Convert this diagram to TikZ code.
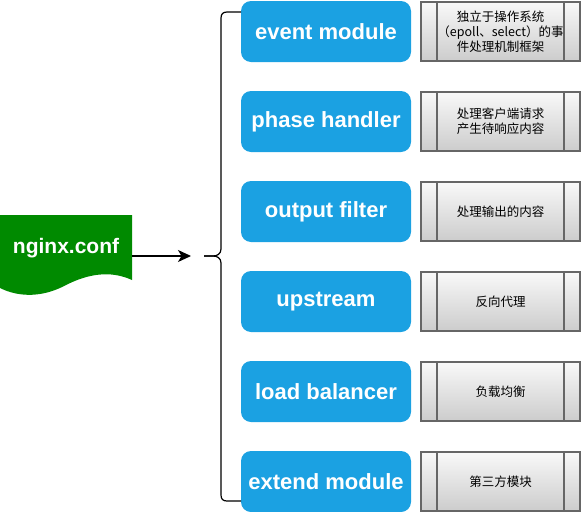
\documentclass[tikz,border=0pt]{standalone}
\usepackage{fontspec}
\setmainfont{Liberation Sans}
\newfontfamily\cjk{Noto Sans CJK SC}
\usetikzlibrary{arrows.meta, positioning, calc}

\definecolor{modblue}{HTML}{1BA1E2}
\definecolor{confgreen}{HTML}{008A00}
\definecolor{procgray}{HTML}{666666}

\tikzset{
  module/.style={fill=modblue, rounded corners=10pt, minimum width=170pt, minimum height=61pt,
    inner sep=0pt, outer sep=0pt, text=white, font=\bfseries\fontsize{22}{26}\selectfont},
  proc/.style={draw=procgray, line width=1.2pt, top color=gray!5, bottom color=gray!40,
    minimum width=159pt, minimum height=59pt, inner sep=0pt, outer sep=0pt, align=center,
    font=\cjk\fontsize{12.5}{15}\selectfont,
    path picture={
      \draw[procgray, line width=1.2pt]
        ([xshift=16pt]path picture bounding box.north west) -- ([xshift=16pt]path picture bounding box.south west)
        ([xshift=-16pt]path picture bounding box.north east) -- ([xshift=-16pt]path picture bounding box.south east);
    }},
  brace/.style={line width=1.2pt},
  flow/.style={line width=1.2pt, -{Stealth[length=13pt, width=12pt, inset=3.5pt]}}
}

\begin{document}
\begin{tikzpicture}[x=1pt, y=-1pt]
\useasboundingbox (0,0) rectangle (582,512);

% config file
\fill[confgreen] (0,215) -- (132,215) -- (132,280)
  .. controls (110,270) and (88,274) .. (66,285)
  .. controls (44,297) and (20,298) .. (0,288) -- cycle;
\node[minimum width=132pt, minimum height=64pt, inner sep=0pt, text=white,
  font=\bfseries\fontsize{21}{25}\selectfont] (conf) at (66,248) {nginx.conf};

% modules
\node[module] (event) at (326,31.5) {event module};
\node[module] (phase) at (326,121.5) {phase handler};
\node[module] (output) at (326,211.5) {output filter};
\node[module] (up) at (326,301.5) {upstream};
\node[module] (lb) at (326,391.5) {load balancer};
\node[module] (ext) at (326,481.5) {extend module};

% descriptions
\node[proc, right=10pt of event] (eventd) {独立于操作系统\\（epoll、select）的事\\件处理机制框架};
\node[proc, right=10pt of phase] (phased) {处理客户端请求\\产生待响应内容};
\node[proc, right=10pt of output] (outputd) {处理输出的内容};
\node[proc, right=10pt of up] (upd) {反向代理};
\node[proc, right=10pt of lb] (lbd) {负载均衡};
\node[proc, right=10pt of ext] (extd) {第三方模块};

% brace
\coordinate (btop) at ([yshift=-11pt]event.north west);
\coordinate (bbot) at ([yshift=11pt]ext.south west);
\coordinate (btip) at (204,256);
\coordinate (barr) at (191,256);
\draw[brace] (btop) -- (227,12) .. controls (223,12) and (221,14) .. (221,18)
  -- (221,249) .. controls (221,254) and (217,256) .. (213,256) -- (btip);
\draw[brace] (btip) -- (213,256) .. controls (217,256) and (221,258) .. (221,263)
  -- (221,495) .. controls (221,499) and (223,501) .. (227,501) -- (bbot);

% arrow
\draw[flow] ([yshift=-8pt]conf.east) -- (barr);
\end{tikzpicture}
\end{document}
